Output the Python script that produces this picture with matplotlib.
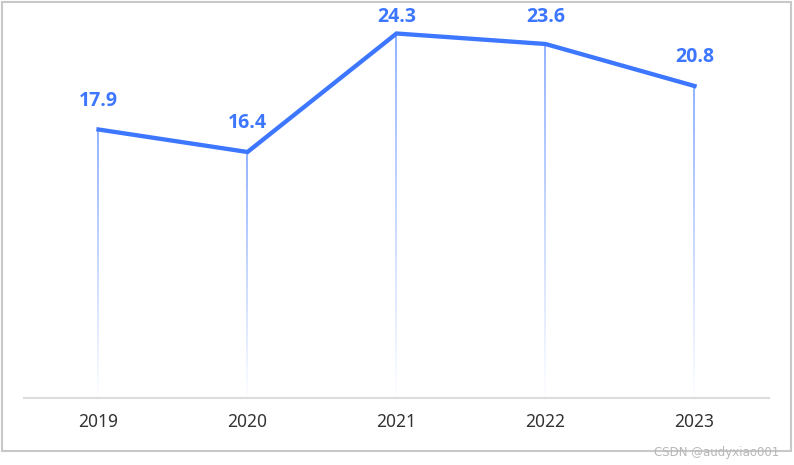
import numpy as np
import matplotlib.pyplot as plt
from matplotlib.collections import LineCollection
from matplotlib.patches import Rectangle

# data
years = ["2019", "2020", "2021", "2022", "2023"]
values = [17.9, 16.4, 24.3, 23.6, 20.8]

blue = "#3d76ff"
W, H = 794, 465

fig = plt.figure(figsize=(W / 100, H / 100), dpi=100)
ax = fig.add_axes([24 / W, (H - 398) / H, 745 / W, 375 / H])
ax.set_xlim(-0.5, len(years) - 0.5)
ax.set_ylim(0, 25)

x = np.arange(len(years))

# gradient drop lines from each point to the axis
n = 60
segs, cols = [], []
for xi, v in zip(x, values):
    ys = np.linspace(v, 0, n + 1)
    for k in range(n):
        segs.append([(xi, ys[k]), (xi, ys[k + 1])])
        a = 1 - k / n
        cols.append((0.36, 0.55, 1.0, 0.85 * a))
ax.add_collection(LineCollection(segs, colors=cols, linewidths=1.1, zorder=2))

ax.plot(x, values, color=blue, lw=3.1, solid_joinstyle="miter", zorder=3)

# value labels (kept inside the top of the canvas)
ytop = 25.4
for xi, v in zip(x, values):
    ax.text(xi, min(v + 1.93, ytop), f"{v}", ha="center", va="center",
            color=blue, fontsize=14, fontweight="bold", family="Open Sans",
            clip_on=False)

ax.set_xticks(x)
ax.set_xticklabels(years, family="Noto Sans", fontsize=12.5, color="#333333")
ax.tick_params(axis="x", length=0, pad=11)
ax.set_yticks([])
for s in ["top", "right", "left"]:
    ax.spines[s].set_visible(False)
ax.spines["bottom"].set_color("#dcdcdc")
ax.spines["bottom"].set_linewidth(1.5)

# outer frame
fig.patches.append(Rectangle((1.5 / W, (H - 451) / H), 789.5 / W, 449 / H,
                             transform=fig.transFigure, fill=False,
                             edgecolor="#c8c8c8", lw=1.5))
fig.text(779 / W, (H - 452) / H, "CSDN @audyxiao001", ha="right", va="center",
         color="#b8b8b8", fontsize=8.5, family="DejaVu Sans")

fig.savefig("out.png", dpi=100)
